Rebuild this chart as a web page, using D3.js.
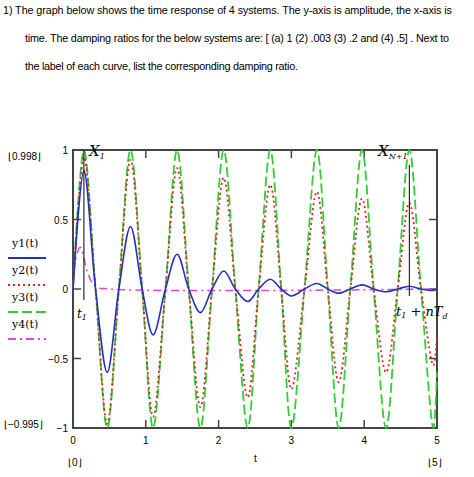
<!DOCTYPE html><html><head><meta charset="utf-8"><script src="https://cdn.jsdelivr.net/npm/d3@7"></script>
<style>body{margin:0;background:#fff}</style></head><body><svg id="c" width="474" height="477"></svg>
<script>
const ext=[0,0.15,0.31,0.47,0.63,0.79,0.95,1.1,1.27,1.43,1.59,1.75,1.91,2.07,2.23,2.4,2.55,2.71,2.86,3.0,3.18,3.35,3.5,3.65,3.81,3.97,4.13,4.3,4.46,4.62,4.78,4.95,5.0];
const y3=[0,1,0,-1,0,1,0,-1,0,1,0,-1,0,1,0,-1,0,1,0,-1,0,1,0,-1,0,1,0,-1,0,1,0,-1,-0.6];
const y2=[0,0.95,0,-0.97,0,0.93,0,-0.92,0,0.87,0,-0.85,0,0.8,0,-0.78,0,0.75,0,-0.72,0,0.7,0,-0.67,0,0.65,0,-0.6,0,0.62,0,-0.55,-0.35];
const y1=[0,0.85,0,-0.6,0,0.45,0,-0.33,0,0.25,0,-0.17,0,0.13,0,-0.09,0,0.07,0,-0.05,0,0.04,0,-0.03,0,0.03,0,-0.02,0,0.02,0,-0.01,0];
const t4=[0,0.04,0.1,0.2,0.3,0.5,5];
const y4=[0,0.22,0.3,0.12,0.02,0,0];
const xTicks=[0,1,2,3,4,5], yTicks=[1,0.5,0,-0.5,-1];
const svg=d3.select("#c");
const x=d3.scaleLinear().domain([0,5]).range([73,437]);
const y=d3.scaleLinear().domain([-1,1]).range([428,150]);
const F="Liberation Sans, Arial, sans-serif";
const lines=[[3,14,"1)   The graph below shows the time response of 4 systems.  The y-axis is amplitude, the x-axis is",449],[25,42,"time.  The damping ratios for the below systems are: [ (a) 1  (2) .003 (3) .2 and (4) .5] .  Next to",424],[25,70,"the label of each curve, list the corresponding damping ratio.",273]];
lines.forEach(l=>svg.append("text").attr("x",l[0]).attr("y",l[1]).attr("font-family",F).attr("font-size",10.8).attr("textLength",l[3]).attr("lengthAdjust","spacing").text(l[2]));
svg.append("rect").attr("x",73).attr("y",150).attr("width",364).attr("height",278).attr("fill","none").attr("stroke","#444").attr("stroke-width",2);
const g=svg.append("g").attr("font-family",F).attr("font-size",10);
xTicks.forEach(v=>{g.append("line").attr("x1",x(v)).attr("x2",x(v)).attr("y1",428).attr("y2",420).attr("stroke","#444").attr("stroke-width",1.5);
 g.append("line").attr("x1",x(v)).attr("x2",x(v)).attr("y1",150).attr("y2",158).attr("stroke","#444").attr("stroke-width",1.5);
 g.append("text").attr("x",x(v)).attr("y",444).attr("text-anchor","middle").text(v);});
yTicks.forEach(v=>{g.append("line").attr("x1",73).attr("x2",81).attr("y1",y(v)).attr("y2",y(v)).attr("stroke","#444").attr("stroke-width",1.5);
 g.append("line").attr("x1",437).attr("x2",429).attr("y1",y(v)).attr("y2",y(v)).attr("stroke","#444").attr("stroke-width",1.5);
 g.append("text").attr("x",68).attr("y",y(v)+4).attr("text-anchor","end").text(v===-0.5?"\u22120.5":v===-1?"\u22121":v);});
const ln=d3.line().curve(d3.curveCatmullRom.alpha(0.5));
function draw(ts,vs,col,w,dash){svg.append("path").attr("d",ln(ts.map((t,i)=>[x(t),y(vs[i])]))).attr("fill","none").attr("stroke",col).attr("stroke-width",w).attr("stroke-dasharray",dash);}
draw(ext,y3,"#33cc33",1.8,"10,4");
draw(ext,y2,"#dd2222",1.8,"2,3");
draw(t4,y4,"#dd44dd",1.5,"8,4,2,4");
draw(ext,y1,"#2233bb",1.6,null);
svg.append("line").attr("x1",x(0.15)).attr("x2",x(0.15)).attr("y1",150).attr("y2",300).attr("stroke","#000");
svg.append("line").attr("x1",x(4.62)).attr("x2",x(4.62)).attr("y1",165).attr("y2",296).attr("stroke","#000");
const s="DejaVu Serif, serif";
let t=svg.append("text").attr("x",89).attr("y",156).attr("font-family",s).attr("font-style","italic").attr("font-size",15).text("X");t.append("tspan").attr("font-size",8).attr("dy",3).text("1");
t=svg.append("text").attr("x",378).attr("y",156).attr("font-family",s).attr("font-style","italic").attr("font-size",15).text("X");t.append("tspan").attr("font-size",8).attr("dy",3).text("N+1");
t=svg.append("text").attr("x",77).attr("y",318).attr("font-family",s).attr("font-style","italic").attr("font-size",12).text("t");t.append("tspan").attr("font-size",8).attr("dy",2).text("1");
t=svg.append("text").attr("x",396).attr("y",316).attr("font-family",s).attr("font-style","italic").attr("font-size",13).text("t");t.append("tspan").attr("font-size",8).attr("dy",2).text("1");t.append("tspan").attr("dy",-2).attr("font-style","normal").text(" + ");t.append("tspan").text("nT");t.append("tspan").attr("font-size",8).attr("dy",3).text("d");
const leg=[["y1(t)","#2233bb",null],["y2(t)","#dd2222","2,3"],["y3(t)","#33cc33","10,4"],["y4(t)","#dd44dd","8,4,2,4"]];
leg.forEach((l,i)=>{const yy=247+i*27;svg.append("text").attr("x",12).attr("y",yy).attr("font-family",s).attr("font-size",11).text(l[0]);
 svg.append("line").attr("x1",8).attr("x2",46).attr("y1",yy+11).attr("y2",yy+11).attr("stroke",l[1]).attr("stroke-width",1.8).attr("stroke-dasharray",l[2]);});
const a=svg.append("g").attr("font-family",F).attr("font-size",10);
a.append("text").attr("x",8).attr("y",160).text("\u230A0.998\u230B");
a.append("text").attr("x",4).attr("y",428).text("\u230A\u22120.995\u230B");
a.append("text").attr("x",68).attr("y",466).text("\u230A0\u230B");
a.append("text").attr("x",254).attr("y",462).text("t");
a.append("text").attr("x",428).attr("y",466).text("\u230A5\u230B");
</script></body></html>
